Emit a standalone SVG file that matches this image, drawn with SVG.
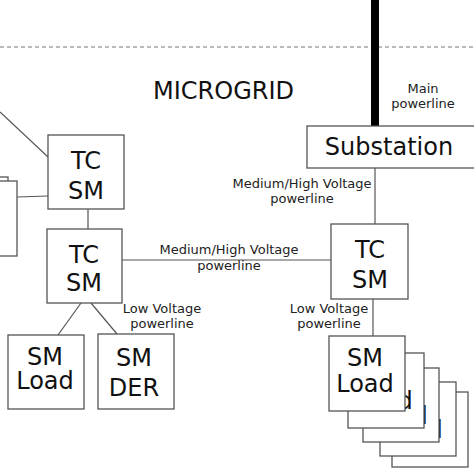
<svg xmlns="http://www.w3.org/2000/svg" width="474" height="474" viewBox="0 0 474 474">
<style>
.box{fill:#fff;stroke:#555;stroke-width:1.3}
.ln{fill:none;stroke:#555;stroke-width:1.2}
.big{font-family:"DejaVu Sans",Verdana,sans-serif;font-size:24px;fill:#111;text-anchor:middle}
.lbl{font-family:"DejaVu Sans",Verdana,sans-serif;font-size:13px;fill:#222;text-anchor:middle}
</style>
<rect width="474" height="474" fill="#fff"/>
<line x1="0" y1="47" x2="474" y2="47" stroke="#777" stroke-width="1.2" stroke-dasharray="4 3"/>
<text class="big" x="223.5" y="99">MICROGRID</text>

<g id="connectors">
  <line x1="375" y1="0" x2="375" y2="126" stroke="#000" stroke-width="8"/>
  <line class="ln" x1="375" y1="168" x2="375" y2="224"/>
  <line class="ln" x1="0" y1="112" x2="48" y2="157"/>
  <line class="ln" x1="17" y1="197" x2="48" y2="196"/>
  <line class="ln" x1="88" y1="209" x2="88" y2="229"/>
  <line class="ln" x1="122" y1="260" x2="331" y2="260"/>
  <line class="ln" x1="81" y1="303" x2="58" y2="335"/>
  <line class="ln" x1="91" y1="303" x2="117" y2="334"/>
  <line class="ln" x1="373" y1="299" x2="373" y2="336"/>
</g>

<g id="labels">
  <text class="lbl" x="423" y="93">Main</text>
  <text class="lbl" x="423" y="108">powerline</text>
  <text class="lbl" x="302" y="188">Medium/High Voltage</text>
  <text class="lbl" x="302" y="203">powerline</text>
  <text class="lbl" x="229" y="254">Medium/High Voltage</text>
  <text class="lbl" x="229" y="270">powerline</text>
  <text class="lbl" x="162" y="313">Low Voltage</text>
  <text class="lbl" x="162" y="328">powerline</text>
  <text class="lbl" x="329" y="313">Low Voltage</text>
  <text class="lbl" x="329" y="328">powerline</text>
</g>

<g id="left-stack">
  <rect class="box" x="-70" y="177" width="78" height="75"/>
  <rect class="box" x="-60" y="181" width="77" height="75"/>
</g>

<g id="substation">
  <rect class="box" x="307" y="126" width="170" height="42"/>
  <text class="big" x="389" y="155">Substation</text>
</g>

<g id="tcsm-top-left">
  <rect class="box" x="48" y="135" width="76" height="74"/>
  <text class="big" x="86" y="169">TC</text>
  <text class="big" x="86" y="199">SM</text>
</g>

<g id="tcsm-left">
  <rect class="box" x="47" y="229" width="75" height="74"/>
  <text class="big" x="84" y="263">TC</text>
  <text class="big" x="84" y="291">SM</text>
</g>

<g id="tcsm-right">
  <rect class="box" x="331" y="224" width="77" height="75"/>
  <text class="big" x="370" y="258">TC</text>
  <text class="big" x="370" y="288">SM</text>
</g>

<g id="sm-load-left">
  <rect class="box" x="8" y="335" width="76" height="74"/>
  <text class="big" x="45" y="365">SM</text>
  <text class="big" x="45" y="389">Load</text>
</g>

<g id="sm-der">
  <rect class="box" x="98" y="334" width="76" height="75"/>
  <text class="big" x="134" y="366">SM</text>
  <text class="big" x="134" y="396">DER</text>
</g>

<g id="sm-load-stack">
  <g id="card5">
    <rect class="box" x="392" y="392" width="76" height="75"/>
    <text class="big" x="426" y="448">Load</text>
  </g>
  <g id="card4">
    <rect class="box" x="380" y="382" width="76" height="74"/>
    <text class="big" x="414" y="438">Load</text>
  </g>
  <g id="card3">
    <rect class="box" x="363" y="368" width="76" height="74"/>
    <text class="big" x="399" y="424">Load</text>
  </g>
  <g id="card2">
    <rect class="box" x="348" y="353" width="76" height="75"/>
    <text class="big" x="384" y="409">Load</text>
  </g>
  <g id="card1">
    <rect class="box" x="329" y="336" width="76" height="75"/>
    <text class="big" x="365" y="366">SM</text>
    <text class="big" x="365" y="392">Load</text>
  </g>
</g>
</svg>
